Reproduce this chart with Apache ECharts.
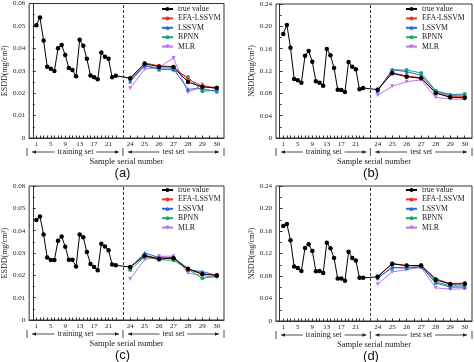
<!DOCTYPE html>
<html><head><meta charset="utf-8">
<script src="https://cdn.jsdelivr.net/npm/echarts@6/dist/echarts.min.js"></script>
<style>html,body{margin:0;padding:0;background:#fff}#c{width:474px;height:362px}</style>
</head><body><div id="c"></div>
<script>
const sampleNos = [1,2,3,4,5,6,7,8,9,10,11,12,13,14,15,16,17,18,19,20,21,22,23,24,25,26,27,28,29,30];
const testNos = [24,25,26,27,28,29,30];
const lastTrainNo = 23;
const xTickLabels = [1,5,9,13,17,21,24,25,26,27,28,29,30];
const seriesNames = ['true value','EFA-LSSVM','LSSVM','BPNN','MLR'];
const panelLetters = ['(a)','(b)','(c)','(d)'];
const yNames = ['ESDD(mg/cm\u00B2)','NSDD(mg/cm\u00B2)','ESDD(mg/cm\u00B2)','NSDD(mg/cm\u00B2)'];

// Panel (a) ESDD
const aTrue = [0.0503,0.0538,0.0435,0.0318,0.0309,0.0299,0.0400,0.0415,0.0370,0.0312,0.0303,0.0276,0.0438,0.0412,0.0353,0.0279,0.0271,0.0262,0.0381,0.0363,0.0353,0.0271,0.0278,0.0267,0.0331,0.0318,0.0317,0.0250,0.0228,0.0223];
const aEfa = [0.0265,0.0335,0.0322,0.0318,0.0262,0.0232,0.0225];
const aLssvm = [0.0252,0.0322,0.0306,0.0309,0.0218,0.0220,0.0207];
const aBpnn = [0.0259,0.0324,0.0309,0.0303,0.0272,0.0209,0.0213];
const aMlr = [0.0222,0.0307,0.0315,0.0357,0.0203,0.0237,0.0216];
// Panel (b) NSDD
const bTrue = [0.1863,0.2024,0.1618,0.1057,0.1033,0.0991,0.1475,0.1558,0.1367,0.1015,0.0991,0.0937,0.1594,0.1480,0.1254,0.0866,0.0860,0.0824,0.1361,0.1278,0.1230,0.0872,0.0896,0.0866,0.1158,0.1099,0.1069,0.0806,0.0728,0.0722];
const bEfa = [0.0870,0.1170,0.1110,0.1080,0.0810,0.0740,0.0740];
const bLssvm = [0.0842,0.1224,0.1188,0.1122,0.0836,0.0764,0.0770];
const bBpnn = [0.0850,0.1218,0.1218,0.1164,0.0848,0.0776,0.0788];
const bMlr = [0.0764,0.0925,0.1009,0.1039,0.0728,0.0698,0.0693];
// Panel (c) ESDD
const cTrue = [0.0448,0.0463,0.0383,0.0280,0.0269,0.0269,0.0355,0.0374,0.0328,0.0270,0.0270,0.0239,0.0383,0.0371,0.0304,0.0251,0.0237,0.0223,0.0341,0.0329,0.0312,0.0248,0.0245,0.0237,0.0288,0.0273,0.0277,0.0230,0.0206,0.0199];
const cEfa = [0.0238,0.0290,0.0276,0.0279,0.0228,0.0205,0.0203];
const cLssvm = [0.0233,0.0301,0.0280,0.0280,0.0224,0.0217,0.0200];
const cBpnn = [0.0224,0.0283,0.0270,0.0267,0.0228,0.0187,0.0196];
const cMlr = [0.0184,0.0270,0.0285,0.0286,0.0211,0.0199,0.0190];
// Panel (d) NSDD
const dTrue = [0.1687,0.1723,0.1434,0.0968,0.0944,0.0891,0.1298,0.1363,0.1245,0.0885,0.0891,0.0855,0.1392,0.1292,0.1121,0.0755,0.0755,0.0714,0.1233,0.1121,0.1074,0.0767,0.0767,0.0785,0.1015,0.0985,0.0985,0.0732,0.0655,0.0661];
const dEfa = [0.0790,0.1027,0.0985,0.0990,0.0750,0.0667,0.0673];
const dLssvm = [0.0761,0.0956,0.0938,0.0968,0.0678,0.0602,0.0602];
const dBpnn = [0.0767,0.0944,0.0950,0.0968,0.0696,0.0625,0.0625];
const dMlr = [0.0655,0.0873,0.0914,0.0950,0.0590,0.0566,0.0572];

const yMax = [0.06,0.24,0.06,0.24];
const yStep = [0.01,0.04,0.01,0.04];

const panels = [
  [aTrue,aEfa,aLssvm,aBpnn,aMlr],
  [bTrue,bEfa,bLssvm,bBpnn,bMlr],
  [cTrue,cEfa,cLssvm,cBpnn,cMlr],
  [dTrue,dEfa,dLssvm,dBpnn,dMlr]
];

// axis mapping: training samples at unit spacing, test samples at 4x spacing
const TEST_STRETCH = 4;
function xPos(n){ return n <= lastTrainNo ? n : lastTrainNo + TEST_STRETCH*(n-lastTrainNo); }
function xInv(p){ return p <= lastTrainNo ? p : lastTrainNo + (p-lastTrainNo)/TEST_STRETCH; }
const splitPos = (xPos(lastTrainNo) + xPos(lastTrainNo+1))/2;

const colors = ['#000000','#f0302c','#2868d8','#1ea86a','#b676e6'];
const symbols = ['circle','circle','triangle','circle','triangle'];
const symbolRot = [0,0,0,0,180];

const grids = [
  {left:27, top:3, width:197, height:135},
  {left:276, top:4, width:196, height:134},
  {left:27, top:186, width:197, height:134},
  {left:276, top:186, width:196, height:135}
];
const yNameGap = [15,20,15,20];
const legendPos = [[134,2],[129,1],[134,0],[129,0]];

const serif = 'Liberation Serif, Times New Roman, serif';
const tickPos = sampleNos.filter(n=>n<=lastTrainNo).map(xPos).concat([27,29,31,33,35,37,39,41,43,45,47,49,51]);

const option = {
  animation:false,
  backgroundColor:'#fff',
  grid: grids.map(g=>Object.assign({show:true,borderColor:'#333',borderWidth:1,backgroundColor:'transparent'},g)),
  xAxis: grids.map((g,i)=>({
    type:'value', gridIndex:i, min:-1, max:53,
    splitLine:{show:false},
    axisLine:{lineStyle:{color:'#333',width:1}},
    axisTick:{inside:true,length:2.5,lineStyle:{color:'#333'},customValues:tickPos},
    axisLabel:{fontFamily:serif,fontSize:7,color:'#222',margin:3,
      customValues:xTickLabels.map(xPos),
      formatter:v=>String(Math.round(xInv(v)))},
    name:'Sample serial number', nameLocation:'middle', nameGap:19,
    nameTextStyle:{fontFamily:serif,fontSize:8.5,color:'#222'}
  })),
  yAxis: grids.map((g,i)=>({
    type:'value', gridIndex:i, min:0, max:yMax[i], interval:yStep[i],
    splitLine:{show:false},
    axisLine:{show:true,lineStyle:{color:'#333',width:1}},
    axisTick:{show:true,inside:true,length:3,lineStyle:{color:'#333'}},
    minorTick:{show:true,splitNumber:2,length:2,lineStyle:{color:'#333'}},
    axisLabel:{fontFamily:serif,fontSize:7,color:'#222',margin:4,
      formatter:v=>v===0?'0':v.toFixed(2)},
    name:yNames[i], nameLocation:'middle', nameGap:yNameGap[i], nameRotate:90,
    nameTextStyle:{fontFamily:serif,fontSize:8,color:'#222'}
  })),
  legend: grids.map((g,i)=>({
    orient:'vertical', left:g.left + legendPos[i][0], top:g.top + legendPos[i][1],
    padding:0, itemWidth:11, itemHeight:5, itemGap:1.4,
    textStyle:{fontFamily:serif,fontSize:7.8,color:'#222',lineHeight:8},
    data: seriesNames.map((nm,k)=>({name:nm+'\u200B'.repeat(i)}))
  })),
  series: []
};

panels.forEach((arrs,i)=>{
  arrs.forEach((arr,k)=>{
    const xs = k===0 ? sampleNos : testNos;
    const s = {
      type:'line', name:seriesNames[k]+'\u200B'.repeat(i), xAxisIndex:i, yAxisIndex:i,
      data: arr.map((v,j)=>[xPos(xs[j]), v]),
      symbol:symbols[k], symbolSize:k===0?4.5:4, symbolRotate:symbolRot[k],
      itemStyle:{color:colors[k]}, lineStyle:{color:colors[k],width:1},
      z: k===0 ? 10 : 5 - k, silent:true
    };
    if(k===0){
      s.markLine = {silent:true, symbol:['none','none'], label:{show:false},
        lineStyle:{color:'#333',type:[3,2],width:1},
        data:[{xAxis:splitPos}]};
    }
    option.series.push(s);
  });
});

const chart = echarts.init(document.getElementById('c'), null, {renderer:'canvas'});
chart.setOption(option);

// annotations: training / test set bands, panel letters
const gfx = [];
grids.forEach((g,i)=>{
  const x0 = g.left, x1 = g.left + g.width;
  const xs = chart.convertToPixel({xAxisIndex:i}, splitPos);
  const y = g.top + g.height + 14;
  const ln = (a,b)=>gfx.push({type:'line',shape:{x1:a,y1:y,x2:b,y2:y},style:{stroke:'#222',lineWidth:0.8},silent:true});
  const bar = x=>gfx.push({type:'line',shape:{x1:x,y1:y-4,x2:x,y2:y+4},style:{stroke:'#222',lineWidth:0.8},silent:true});
  const headL = x=>gfx.push({type:'polygon',shape:{points:[[x,y],[x+4,y-1.8],[x+4,y+1.8]]},style:{fill:'#222'},silent:true});
  const headR = x=>gfx.push({type:'polygon',shape:{points:[[x,y],[x-4,y-1.8],[x-4,y+1.8]]},style:{fill:'#222'},silent:true});
  bar(x0); bar(xs); bar(x1);
  ln(x0+5, xs-4); headL(x0+5); headR(xs-4);
  ln(xs+5, x1-5); headL(xs+5); headR(x1-5);
  const tc = (x0+5+xs-4)/2, sc = (xs+5+x1-5)/2;
  [[tc,'training set'],[sc,'test set']].forEach(([cx,t])=>gfx.push({type:'text',x:cx,y:y,silent:true,
    style:{text:t,fill:'#222',font:'8px '+serif,align:'center',verticalAlign:'middle',backgroundColor:'#fff',padding:[0,3]},z:10}));
  gfx.push({type:'text',x:(x0+x1)/2 - 3,y:g.top+g.height+35,silent:true,
    style:{text:panelLetters[i],fill:'#111',font:'13px Liberation Sans, Arial, sans-serif',align:'center',verticalAlign:'middle'}});
});
chart.setOption({graphic:gfx});
</script></body></html>
